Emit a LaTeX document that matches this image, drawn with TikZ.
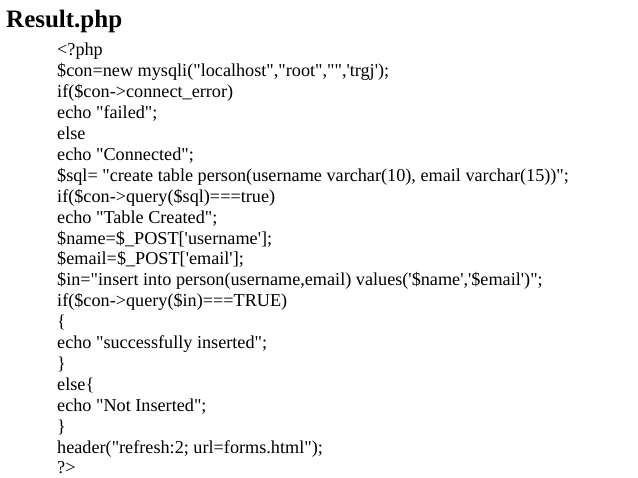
\documentclass[tikz,border=0pt]{standalone}
\usepackage{fontspec}
\setmainfont{Liberation Serif}[Ligatures=TeXOff]
\usetikzlibrary{positioning}

\tikzset{
  heading/.style={anchor=base west,inner sep=0pt,font=\bfseries\fontsize{25}{25}\selectfont},
  codeline/.style={anchor=base west,inner sep=0pt,font=\fontsize{18.2}{19}\selectfont}
}

\begin{document}
\begin{tikzpicture}[x=1pt,y=-1pt]
\useasboundingbox (0,0) rectangle (638,478);
            % Title
\node[heading] (title) at (6,28) {Result.php};
            % Code
\foreach \txt [count=\i] in {
  {<?php},
  {\$con=new mysqli("localhost","root","",'trgj');},
  {if(\$con->connect\_error)},
  {echo "failed";},
  {else},
  {echo "Connected";},
  {\$sql= "create table person(username varchar(10), email varchar(15))";},
  {if(\$con->query(\$sql)===true)},
  {echo "Table Created";},
  {\$name=\$\_POST['username'];},
  {\$email=\$\_POST['email'];},
  {\$in="insert into person(username,email) values('\$name','\$email')";},
  {if(\$con->query(\$in)===TRUE)},
  {\{},
  {echo "successfully inserted";},
  {\}},
  {else\{},
  {echo "Not Inserted";},
  {\}},
  {header("refresh:2; url=forms.html");},
  {?>}}
  \node[codeline] (l\i) at (57,{56+(\i-1)*20.9}) {\txt};
\end{tikzpicture}
\end{document}
